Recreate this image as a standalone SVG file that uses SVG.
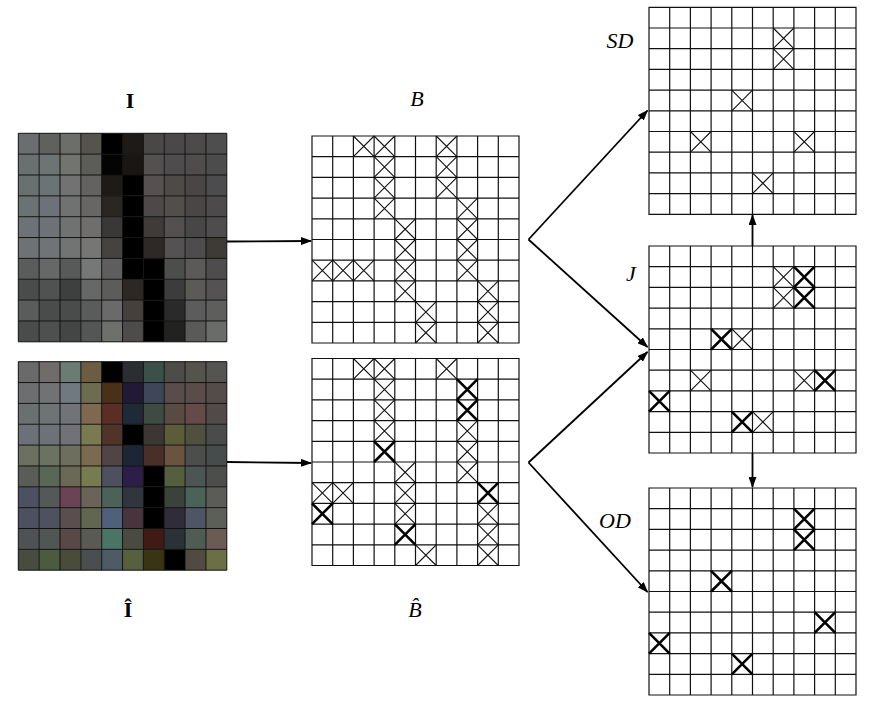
<svg xmlns="http://www.w3.org/2000/svg" xmlns:xlink="http://www.w3.org/1999/xlink" width="871" height="703" viewBox="0 0 871 703">
<style>
.g{fill:none;stroke:#111;stroke-width:1.2}
.ig{fill:none;stroke:#111;stroke-width:1}
.xt{fill:none;stroke:#111;stroke-width:1.1}
.xb{fill:none;stroke:#000;stroke-width:2.6}
.lbl{font-family:"Liberation Serif","Times New Roman",serif;font-size:22px;fill:#000;text-anchor:middle}
.it{font-style:italic}
.bd{font-weight:bold}
.c{fill:none;stroke:#000;stroke-width:1.8}
</style>
<defs>
<marker id="ah" viewBox="0 0 11 8" refX="10" refY="4" markerWidth="11" markerHeight="8" markerUnits="userSpaceOnUse" orient="auto"><path d="M0 0L11 4L0 8Z" fill="#000"/></marker>
<path id="grid" class="g" d="M0 0H207V207H0Z M20.7 0V207 M41.4 0V207 M62.1 0V207 M82.8 0V207 M103.5 0V207 M124.2 0V207 M144.9 0V207 M165.6 0V207 M186.3 0V207 M0 20.7H207 M0 41.4H207 M0 62.1H207 M0 82.8H207 M0 103.5H207 M0 124.2H207 M0 144.9H207 M0 165.6H207 M0 186.3H207"/>
<path id="igrid" class="ig" d="M0 0H208.5V208.5H0Z M20.85 0V208.5 M41.7 0V208.5 M62.55 0V208.5 M83.4 0V208.5 M104.25 0V208.5 M125.1 0V208.5 M145.95 0V208.5 M166.8 0V208.5 M187.65 0V208.5 M0 20.85H208.5 M0 41.7H208.5 M0 62.55H208.5 M0 83.4H208.5 M0 104.25H208.5 M0 125.1H208.5 M0 145.95H208.5 M0 166.8H208.5 M0 187.65H208.5"/>
<path id="xt" class="xt" d="M0 0L20.7 20.7M20.7 0L0 20.7"/>
<path id="xb" class="xb" d="M0 0L20.7 20.7M20.7 0L0 20.7"/>
</defs>
<rect width="871" height="703" fill="#fff"/>

<g id="image-I" transform="translate(18.3,133.3)">
<g id="I-row0">
<rect x="0" y="0" width="20.85" height="20.85" fill="#6a6e6e"/><rect x="20.85" y="0" width="20.85" height="20.85" fill="#5e615e"/><rect x="41.7" y="0" width="20.85" height="20.85" fill="#6c6e6a"/><rect x="62.55" y="0" width="20.85" height="20.85" fill="#55544c"/><rect x="83.4" y="0" width="20.85" height="20.85" fill="#000000"/><rect x="104.25" y="0" width="20.85" height="20.85" fill="#1e1a18"/><rect x="125.1" y="0" width="20.85" height="20.85" fill="#4a4846"/><rect x="145.95" y="0" width="20.85" height="20.85" fill="#4a4848"/><rect x="166.8" y="0" width="20.85" height="20.85" fill="#4c4a4a"/><rect x="187.65" y="0" width="20.85" height="20.85" fill="#4e4e4e"/>
</g>
<g id="I-row1">
<rect x="0" y="20.85" width="20.85" height="20.85" fill="#6a7070"/><rect x="20.85" y="20.85" width="20.85" height="20.85" fill="#6e7474"/><rect x="41.7" y="20.85" width="20.85" height="20.85" fill="#727470"/><rect x="62.55" y="20.85" width="20.85" height="20.85" fill="#5c5c58"/><rect x="83.4" y="20.85" width="20.85" height="20.85" fill="#050404"/><rect x="104.25" y="20.85" width="20.85" height="20.85" fill="#1a1614"/><rect x="125.1" y="20.85" width="20.85" height="20.85" fill="#545050"/><rect x="145.95" y="20.85" width="20.85" height="20.85" fill="#4e4c4c"/><rect x="166.8" y="20.85" width="20.85" height="20.85" fill="#504c4c"/><rect x="187.65" y="20.85" width="20.85" height="20.85" fill="#4c4c4c"/>
</g>
<g id="I-row2">
<rect x="0" y="41.7" width="20.85" height="20.85" fill="#687070"/><rect x="20.85" y="41.7" width="20.85" height="20.85" fill="#6a7474"/><rect x="41.7" y="41.7" width="20.85" height="20.85" fill="#727272"/><rect x="62.55" y="41.7" width="20.85" height="20.85" fill="#646260"/><rect x="83.4" y="41.7" width="20.85" height="20.85" fill="#1e1a16"/><rect x="104.25" y="41.7" width="20.85" height="20.85" fill="#000000"/><rect x="125.1" y="41.7" width="20.85" height="20.85" fill="#565050"/><rect x="145.95" y="41.7" width="20.85" height="20.85" fill="#4e4a48"/><rect x="166.8" y="41.7" width="20.85" height="20.85" fill="#4a4646"/><rect x="187.65" y="41.7" width="20.85" height="20.85" fill="#4c4c4e"/>
</g>
<g id="I-row3">
<rect x="0" y="62.55" width="20.85" height="20.85" fill="#6a7274"/><rect x="20.85" y="62.55" width="20.85" height="20.85" fill="#6c7276"/><rect x="41.7" y="62.55" width="20.85" height="20.85" fill="#707272"/><rect x="62.55" y="62.55" width="20.85" height="20.85" fill="#686664"/><rect x="83.4" y="62.55" width="20.85" height="20.85" fill="#2a2622"/><rect x="104.25" y="62.55" width="20.85" height="20.85" fill="#000000"/><rect x="125.1" y="62.55" width="20.85" height="20.85" fill="#4e4848"/><rect x="145.95" y="62.55" width="20.85" height="20.85" fill="#524e4c"/><rect x="166.8" y="62.55" width="20.85" height="20.85" fill="#4a4646"/><rect x="187.65" y="62.55" width="20.85" height="20.85" fill="#4c4a4a"/>
</g>
<g id="I-row4">
<rect x="0" y="83.4" width="20.85" height="20.85" fill="#6c7276"/><rect x="20.85" y="83.4" width="20.85" height="20.85" fill="#6e7276"/><rect x="41.7" y="83.4" width="20.85" height="20.85" fill="#707272"/><rect x="62.55" y="83.4" width="20.85" height="20.85" fill="#706e6c"/><rect x="83.4" y="83.4" width="20.85" height="20.85" fill="#3a3836"/><rect x="104.25" y="83.4" width="20.85" height="20.85" fill="#000000"/><rect x="125.1" y="83.4" width="20.85" height="20.85" fill="#403a38"/><rect x="145.95" y="83.4" width="20.85" height="20.85" fill="#545050"/><rect x="166.8" y="83.4" width="20.85" height="20.85" fill="#484646"/><rect x="187.65" y="83.4" width="20.85" height="20.85" fill="#4e4c4c"/>
</g>
<g id="I-row5">
<rect x="0" y="104.25" width="20.85" height="20.85" fill="#6e7274"/><rect x="20.85" y="104.25" width="20.85" height="20.85" fill="#707476"/><rect x="41.7" y="104.25" width="20.85" height="20.85" fill="#727474"/><rect x="62.55" y="104.25" width="20.85" height="20.85" fill="#767674"/><rect x="83.4" y="104.25" width="20.85" height="20.85" fill="#464240"/><rect x="104.25" y="104.25" width="20.85" height="20.85" fill="#000000"/><rect x="125.1" y="104.25" width="20.85" height="20.85" fill="#2e2826"/><rect x="145.95" y="104.25" width="20.85" height="20.85" fill="#545252"/><rect x="166.8" y="104.25" width="20.85" height="20.85" fill="#4e4c4c"/><rect x="187.65" y="104.25" width="20.85" height="20.85" fill="#3e3a36"/>
</g>
<g id="I-row6">
<rect x="0" y="125.1" width="20.85" height="20.85" fill="#5a5c5c"/><rect x="20.85" y="125.1" width="20.85" height="20.85" fill="#666868"/><rect x="41.7" y="125.1" width="20.85" height="20.85" fill="#585a5a"/><rect x="62.55" y="125.1" width="20.85" height="20.85" fill="#767878"/><rect x="83.4" y="125.1" width="20.85" height="20.85" fill="#5e5e5e"/><rect x="104.25" y="125.1" width="20.85" height="20.85" fill="#000000"/><rect x="125.1" y="125.1" width="20.85" height="20.85" fill="#000000"/><rect x="145.95" y="125.1" width="20.85" height="20.85" fill="#4c4e4c"/><rect x="166.8" y="125.1" width="20.85" height="20.85" fill="#5c5a58"/><rect x="187.65" y="125.1" width="20.85" height="20.85" fill="#4e4c4c"/>
</g>
<g id="I-row7">
<rect x="0" y="145.95" width="20.85" height="20.85" fill="#4a4c4c"/><rect x="20.85" y="145.95" width="20.85" height="20.85" fill="#505252"/><rect x="41.7" y="145.95" width="20.85" height="20.85" fill="#3e4040"/><rect x="62.55" y="145.95" width="20.85" height="20.85" fill="#666868"/><rect x="83.4" y="145.95" width="20.85" height="20.85" fill="#5c5c5a"/><rect x="104.25" y="145.95" width="20.85" height="20.85" fill="#2e2824"/><rect x="125.1" y="145.95" width="20.85" height="20.85" fill="#000000"/><rect x="145.95" y="145.95" width="20.85" height="20.85" fill="#3c3c3c"/><rect x="166.8" y="145.95" width="20.85" height="20.85" fill="#5c5a58"/><rect x="187.65" y="145.95" width="20.85" height="20.85" fill="#545252"/>
</g>
<g id="I-row8">
<rect x="0" y="166.8" width="20.85" height="20.85" fill="#5a5c5c"/><rect x="20.85" y="166.8" width="20.85" height="20.85" fill="#4a4c4c"/><rect x="41.7" y="166.8" width="20.85" height="20.85" fill="#4a4c4c"/><rect x="62.55" y="166.8" width="20.85" height="20.85" fill="#5a5c5c"/><rect x="83.4" y="166.8" width="20.85" height="20.85" fill="#6a6a6a"/><rect x="104.25" y="166.8" width="20.85" height="20.85" fill="#46403c"/><rect x="125.1" y="166.8" width="20.85" height="20.85" fill="#000000"/><rect x="145.95" y="166.8" width="20.85" height="20.85" fill="#2a2a2a"/><rect x="166.8" y="166.8" width="20.85" height="20.85" fill="#5c5c5c"/><rect x="187.65" y="166.8" width="20.85" height="20.85" fill="#5e5e5c"/>
</g>
<g id="I-row9">
<rect x="0" y="187.65" width="20.85" height="20.85" fill="#4a4c4c"/><rect x="20.85" y="187.65" width="20.85" height="20.85" fill="#4e5050"/><rect x="41.7" y="187.65" width="20.85" height="20.85" fill="#444646"/><rect x="62.55" y="187.65" width="20.85" height="20.85" fill="#545656"/><rect x="83.4" y="187.65" width="20.85" height="20.85" fill="#6e706c"/><rect x="104.25" y="187.65" width="20.85" height="20.85" fill="#4e4c4a"/><rect x="125.1" y="187.65" width="20.85" height="20.85" fill="#000000"/><rect x="145.95" y="187.65" width="20.85" height="20.85" fill="#222220"/><rect x="166.8" y="187.65" width="20.85" height="20.85" fill="#5a5a58"/><rect x="187.65" y="187.65" width="20.85" height="20.85" fill="#6a6c6a"/>
</g>
<use href="#igrid"/>
</g>
<text id="label-I" class="lbl bd" x="130" y="108">I</text>

<g id="image-Ihat" transform="translate(18.3,361.7)">
<g id="Ih-row0">
<rect x="0" y="0" width="20.85" height="20.85" fill="#6a6a6a"/><rect x="20.85" y="0" width="20.85" height="20.85" fill="#706c6c"/><rect x="41.7" y="0" width="20.85" height="20.85" fill="#6a7c74"/><rect x="62.55" y="0" width="20.85" height="20.85" fill="#6c5c44"/><rect x="83.4" y="0" width="20.85" height="20.85" fill="#020000"/><rect x="104.25" y="0" width="20.85" height="20.85" fill="#2a2e30"/><rect x="125.1" y="0" width="20.85" height="20.85" fill="#3a5048"/><rect x="145.95" y="0" width="20.85" height="20.85" fill="#4e4c48"/><rect x="166.8" y="0" width="20.85" height="20.85" fill="#54544c"/><rect x="187.65" y="0" width="20.85" height="20.85" fill="#545450"/>
</g>
<g id="Ih-row1">
<rect x="0" y="20.85" width="20.85" height="20.85" fill="#6c6e70"/><rect x="20.85" y="20.85" width="20.85" height="20.85" fill="#707274"/><rect x="41.7" y="20.85" width="20.85" height="20.85" fill="#707880"/><rect x="62.55" y="20.85" width="20.85" height="20.85" fill="#6e6c50"/><rect x="83.4" y="20.85" width="20.85" height="20.85" fill="#4a3018"/><rect x="104.25" y="20.85" width="20.85" height="20.85" fill="#221a34"/><rect x="125.1" y="20.85" width="20.85" height="20.85" fill="#40465a"/><rect x="145.95" y="20.85" width="20.85" height="20.85" fill="#5a4c48"/><rect x="166.8" y="20.85" width="20.85" height="20.85" fill="#5a4c48"/><rect x="187.65" y="20.85" width="20.85" height="20.85" fill="#544c48"/>
</g>
<g id="Ih-row2">
<rect x="0" y="41.7" width="20.85" height="20.85" fill="#6a7070"/><rect x="20.85" y="41.7" width="20.85" height="20.85" fill="#6e7474"/><rect x="41.7" y="41.7" width="20.85" height="20.85" fill="#707478"/><rect x="62.55" y="41.7" width="20.85" height="20.85" fill="#7e6850"/><rect x="83.4" y="41.7" width="20.85" height="20.85" fill="#5a2e24"/><rect x="104.25" y="41.7" width="20.85" height="20.85" fill="#1e2a38"/><rect x="125.1" y="41.7" width="20.85" height="20.85" fill="#3e4a42"/><rect x="145.95" y="41.7" width="20.85" height="20.85" fill="#5a4a44"/><rect x="166.8" y="41.7" width="20.85" height="20.85" fill="#644a48"/><rect x="187.65" y="41.7" width="20.85" height="20.85" fill="#524a48"/>
</g>
<g id="Ih-row3">
<rect x="0" y="62.55" width="20.85" height="20.85" fill="#6c7078"/><rect x="20.85" y="62.55" width="20.85" height="20.85" fill="#6e7278"/><rect x="41.7" y="62.55" width="20.85" height="20.85" fill="#707278"/><rect x="62.55" y="62.55" width="20.85" height="20.85" fill="#7a7a50"/><rect x="83.4" y="62.55" width="20.85" height="20.85" fill="#503428"/><rect x="104.25" y="62.55" width="20.85" height="20.85" fill="#000000"/><rect x="125.1" y="62.55" width="20.85" height="20.85" fill="#3c3634"/><rect x="145.95" y="62.55" width="20.85" height="20.85" fill="#5c5c38"/><rect x="166.8" y="62.55" width="20.85" height="20.85" fill="#505040"/><rect x="187.65" y="62.55" width="20.85" height="20.85" fill="#4a4c4c"/>
</g>
<g id="Ih-row4">
<rect x="0" y="83.4" width="20.85" height="20.85" fill="#6c705e"/><rect x="20.85" y="83.4" width="20.85" height="20.85" fill="#6c7262"/><rect x="41.7" y="83.4" width="20.85" height="20.85" fill="#6e6e5e"/><rect x="62.55" y="83.4" width="20.85" height="20.85" fill="#7c6a50"/><rect x="83.4" y="83.4" width="20.85" height="20.85" fill="#504444"/><rect x="104.25" y="83.4" width="20.85" height="20.85" fill="#1c2634"/><rect x="125.1" y="83.4" width="20.85" height="20.85" fill="#4a2e28"/><rect x="145.95" y="83.4" width="20.85" height="20.85" fill="#6a5440"/><rect x="166.8" y="83.4" width="20.85" height="20.85" fill="#4c4e4c"/><rect x="187.65" y="83.4" width="20.85" height="20.85" fill="#464c4c"/>
</g>
<g id="Ih-row5">
<rect x="0" y="104.25" width="20.85" height="20.85" fill="#5a5c58"/><rect x="20.85" y="104.25" width="20.85" height="20.85" fill="#5a6656"/><rect x="41.7" y="104.25" width="20.85" height="20.85" fill="#6a6856"/><rect x="62.55" y="104.25" width="20.85" height="20.85" fill="#767c50"/><rect x="83.4" y="104.25" width="20.85" height="20.85" fill="#4e5060"/><rect x="104.25" y="104.25" width="20.85" height="20.85" fill="#2c1e48"/><rect x="125.1" y="104.25" width="20.85" height="20.85" fill="#000000"/><rect x="145.95" y="104.25" width="20.85" height="20.85" fill="#565e40"/><rect x="166.8" y="104.25" width="20.85" height="20.85" fill="#4c5454"/><rect x="187.65" y="104.25" width="20.85" height="20.85" fill="#4c4e4c"/>
</g>
<g id="Ih-row6">
<rect x="0" y="125.1" width="20.85" height="20.85" fill="#4c5060"/><rect x="20.85" y="125.1" width="20.85" height="20.85" fill="#545858"/><rect x="41.7" y="125.1" width="20.85" height="20.85" fill="#6a4454"/><rect x="62.55" y="125.1" width="20.85" height="20.85" fill="#6a6458"/><rect x="83.4" y="125.1" width="20.85" height="20.85" fill="#4a6258"/><rect x="104.25" y="125.1" width="20.85" height="20.85" fill="#303640"/><rect x="125.1" y="125.1" width="20.85" height="20.85" fill="#000000"/><rect x="145.95" y="125.1" width="20.85" height="20.85" fill="#3a423a"/><rect x="166.8" y="125.1" width="20.85" height="20.85" fill="#4a6258"/><rect x="187.65" y="125.1" width="20.85" height="20.85" fill="#5c5c56"/>
</g>
<g id="Ih-row7">
<rect x="0" y="145.95" width="20.85" height="20.85" fill="#4c5060"/><rect x="20.85" y="145.95" width="20.85" height="20.85" fill="#4e5260"/><rect x="41.7" y="145.95" width="20.85" height="20.85" fill="#5a4e4e"/><rect x="62.55" y="145.95" width="20.85" height="20.85" fill="#606650"/><rect x="83.4" y="145.95" width="20.85" height="20.85" fill="#50607a"/><rect x="104.25" y="145.95" width="20.85" height="20.85" fill="#48343c"/><rect x="125.1" y="145.95" width="20.85" height="20.85" fill="#000000"/><rect x="145.95" y="145.95" width="20.85" height="20.85" fill="#302c3a"/><rect x="166.8" y="145.95" width="20.85" height="20.85" fill="#4e5666"/><rect x="187.65" y="145.95" width="20.85" height="20.85" fill="#5c5e58"/>
</g>
<g id="Ih-row8">
<rect x="0" y="166.8" width="20.85" height="20.85" fill="#4e5254"/><rect x="20.85" y="166.8" width="20.85" height="20.85" fill="#505654"/><rect x="41.7" y="166.8" width="20.85" height="20.85" fill="#584848"/><rect x="62.55" y="166.8" width="20.85" height="20.85" fill="#5a5a54"/><rect x="83.4" y="166.8" width="20.85" height="20.85" fill="#4a7466"/><rect x="104.25" y="166.8" width="20.85" height="20.85" fill="#4a4a40"/><rect x="125.1" y="166.8" width="20.85" height="20.85" fill="#401a14"/><rect x="145.95" y="166.8" width="20.85" height="20.85" fill="#2a3238"/><rect x="166.8" y="166.8" width="20.85" height="20.85" fill="#4e5c54"/><rect x="187.65" y="166.8" width="20.85" height="20.85" fill="#6a5c54"/>
</g>
<g id="Ih-row9">
<rect x="0" y="187.65" width="20.85" height="20.85" fill="#484c40"/><rect x="20.85" y="187.65" width="20.85" height="20.85" fill="#4c5a40"/><rect x="41.7" y="187.65" width="20.85" height="20.85" fill="#4a4c3a"/><rect x="62.55" y="187.65" width="20.85" height="20.85" fill="#4a4e50"/><rect x="83.4" y="187.65" width="20.85" height="20.85" fill="#4e5a66"/><rect x="104.25" y="187.65" width="20.85" height="20.85" fill="#56603e"/><rect x="125.1" y="187.65" width="20.85" height="20.85" fill="#383414"/><rect x="145.95" y="187.65" width="20.85" height="20.85" fill="#000000"/><rect x="166.8" y="187.65" width="20.85" height="20.85" fill="#504a40"/><rect x="187.65" y="187.65" width="20.85" height="20.85" fill="#6a7044"/>
</g>
<use href="#igrid"/>
</g>
<text id="label-Ihat" class="lbl bd" x="128" y="617">Î</text>

<g id="grid-B" transform="translate(312,136)">
<use href="#grid"/>
<use href="#xt" x="41.4" y="0"/><use href="#xt" x="62.1" y="0"/><use href="#xt" x="124.2" y="0"/>
<use href="#xt" x="62.1" y="20.7"/><use href="#xt" x="124.2" y="20.7"/>
<use href="#xt" x="62.1" y="41.4"/><use href="#xt" x="124.2" y="41.4"/>
<use href="#xt" x="62.1" y="62.1"/><use href="#xt" x="144.9" y="62.1"/>
<use href="#xt" x="82.8" y="82.8"/><use href="#xt" x="144.9" y="82.8"/>
<use href="#xt" x="82.8" y="103.5"/><use href="#xt" x="144.9" y="103.5"/>
<use href="#xt" x="0" y="124.2"/><use href="#xt" x="20.7" y="124.2"/><use href="#xt" x="41.4" y="124.2"/><use href="#xt" x="82.8" y="124.2"/><use href="#xt" x="144.9" y="124.2"/>
<use href="#xt" x="82.8" y="144.9"/><use href="#xt" x="165.6" y="144.9"/>
<use href="#xt" x="103.5" y="165.6"/><use href="#xt" x="165.6" y="165.6"/>
<use href="#xt" x="103.5" y="186.3"/><use href="#xt" x="165.6" y="186.3"/>
</g>
<text id="label-B" class="lbl it" x="417" y="106">B</text>

<g id="grid-Bhat" transform="translate(312,358.5)">
<use href="#grid"/>
<use href="#xt" x="41.4" y="0"/><use href="#xt" x="62.1" y="0"/><use href="#xt" x="124.2" y="0"/>
<use href="#xt" x="62.1" y="20.7"/><use href="#xb" x="144.9" y="20.7"/>
<use href="#xt" x="62.1" y="41.4"/><use href="#xb" x="144.9" y="41.4"/>
<use href="#xt" x="62.1" y="62.1"/><use href="#xt" x="144.9" y="62.1"/>
<use href="#xb" x="62.1" y="82.8"/><use href="#xt" x="144.9" y="82.8"/>
<use href="#xt" x="82.8" y="103.5"/><use href="#xt" x="144.9" y="103.5"/>
<use href="#xt" x="0" y="124.2"/><use href="#xt" x="20.7" y="124.2"/><use href="#xt" x="82.8" y="124.2"/><use href="#xb" x="165.6" y="124.2"/>
<use href="#xb" x="0" y="144.9"/><use href="#xt" x="82.8" y="144.9"/><use href="#xt" x="165.6" y="144.9"/>
<use href="#xb" x="82.8" y="165.6"/><use href="#xt" x="165.6" y="165.6"/>
<use href="#xt" x="103.5" y="186.3"/><use href="#xt" x="165.6" y="186.3"/>
</g>
<text id="label-Bhat" class="lbl it" x="415" y="617">B̂</text>

<g id="grid-SD" transform="translate(649,7.3)">
<use href="#grid"/>
<use href="#xt" x="124.2" y="20.7"/><use href="#xt" x="124.2" y="41.4"/>
<use href="#xt" x="82.8" y="82.8"/>
<use href="#xt" x="41.4" y="124.2"/><use href="#xt" x="144.9" y="124.2"/>
<use href="#xt" x="103.5" y="165.6"/>
</g>
<text id="label-SD" class="lbl it" x="620" y="48">SD</text>

<g id="grid-J" transform="translate(649,246)">
<use href="#grid"/>
<use href="#xt" x="124.2" y="20.7"/><use href="#xb" x="144.9" y="20.7"/>
<use href="#xt" x="124.2" y="41.4"/><use href="#xb" x="144.9" y="41.4"/>
<use href="#xb" x="62.1" y="82.8"/><use href="#xt" x="82.8" y="82.8"/>
<use href="#xt" x="41.4" y="124.2"/><use href="#xt" x="144.9" y="124.2"/><use href="#xb" x="165.6" y="124.2"/>
<use href="#xb" x="0" y="144.9"/>
<use href="#xb" x="82.8" y="165.6"/><use href="#xt" x="103.5" y="165.6"/>
</g>
<text id="label-J" class="lbl it" x="631" y="281">J</text>

<g id="grid-OD" transform="translate(649,488)">
<use href="#grid"/>
<use href="#xb" x="144.9" y="20.7"/><use href="#xb" x="144.9" y="41.4"/>
<use href="#xb" x="62.1" y="82.8"/>
<use href="#xb" x="165.6" y="124.2"/>
<use href="#xb" x="0" y="144.9"/>
<use href="#xb" x="82.8" y="165.6"/>
</g>
<text id="label-OD" class="lbl it" x="615" y="528">OD</text>

<g id="connectors">
<path class="c" d="M227 241.5L311 241" marker-end="url(#ah)"/>
<path class="c" d="M227 462L311 463" marker-end="url(#ah)"/>
<path class="c" d="M528.5 239.5L647.5 110.5" marker-end="url(#ah)"/>
<path class="c" d="M528.5 239.5L647.5 347" marker-end="url(#ah)"/>
<path class="c" d="M528.5 462.5L647.5 352" marker-end="url(#ah)"/>
<path class="c" d="M528.5 462.5L647.5 592" marker-end="url(#ah)"/>
<path class="c" d="M752.5 246L752.5 215" marker-end="url(#ah)"/>
<path class="c" d="M752.5 453L752.5 487" marker-end="url(#ah)"/>
</g>
</svg>
